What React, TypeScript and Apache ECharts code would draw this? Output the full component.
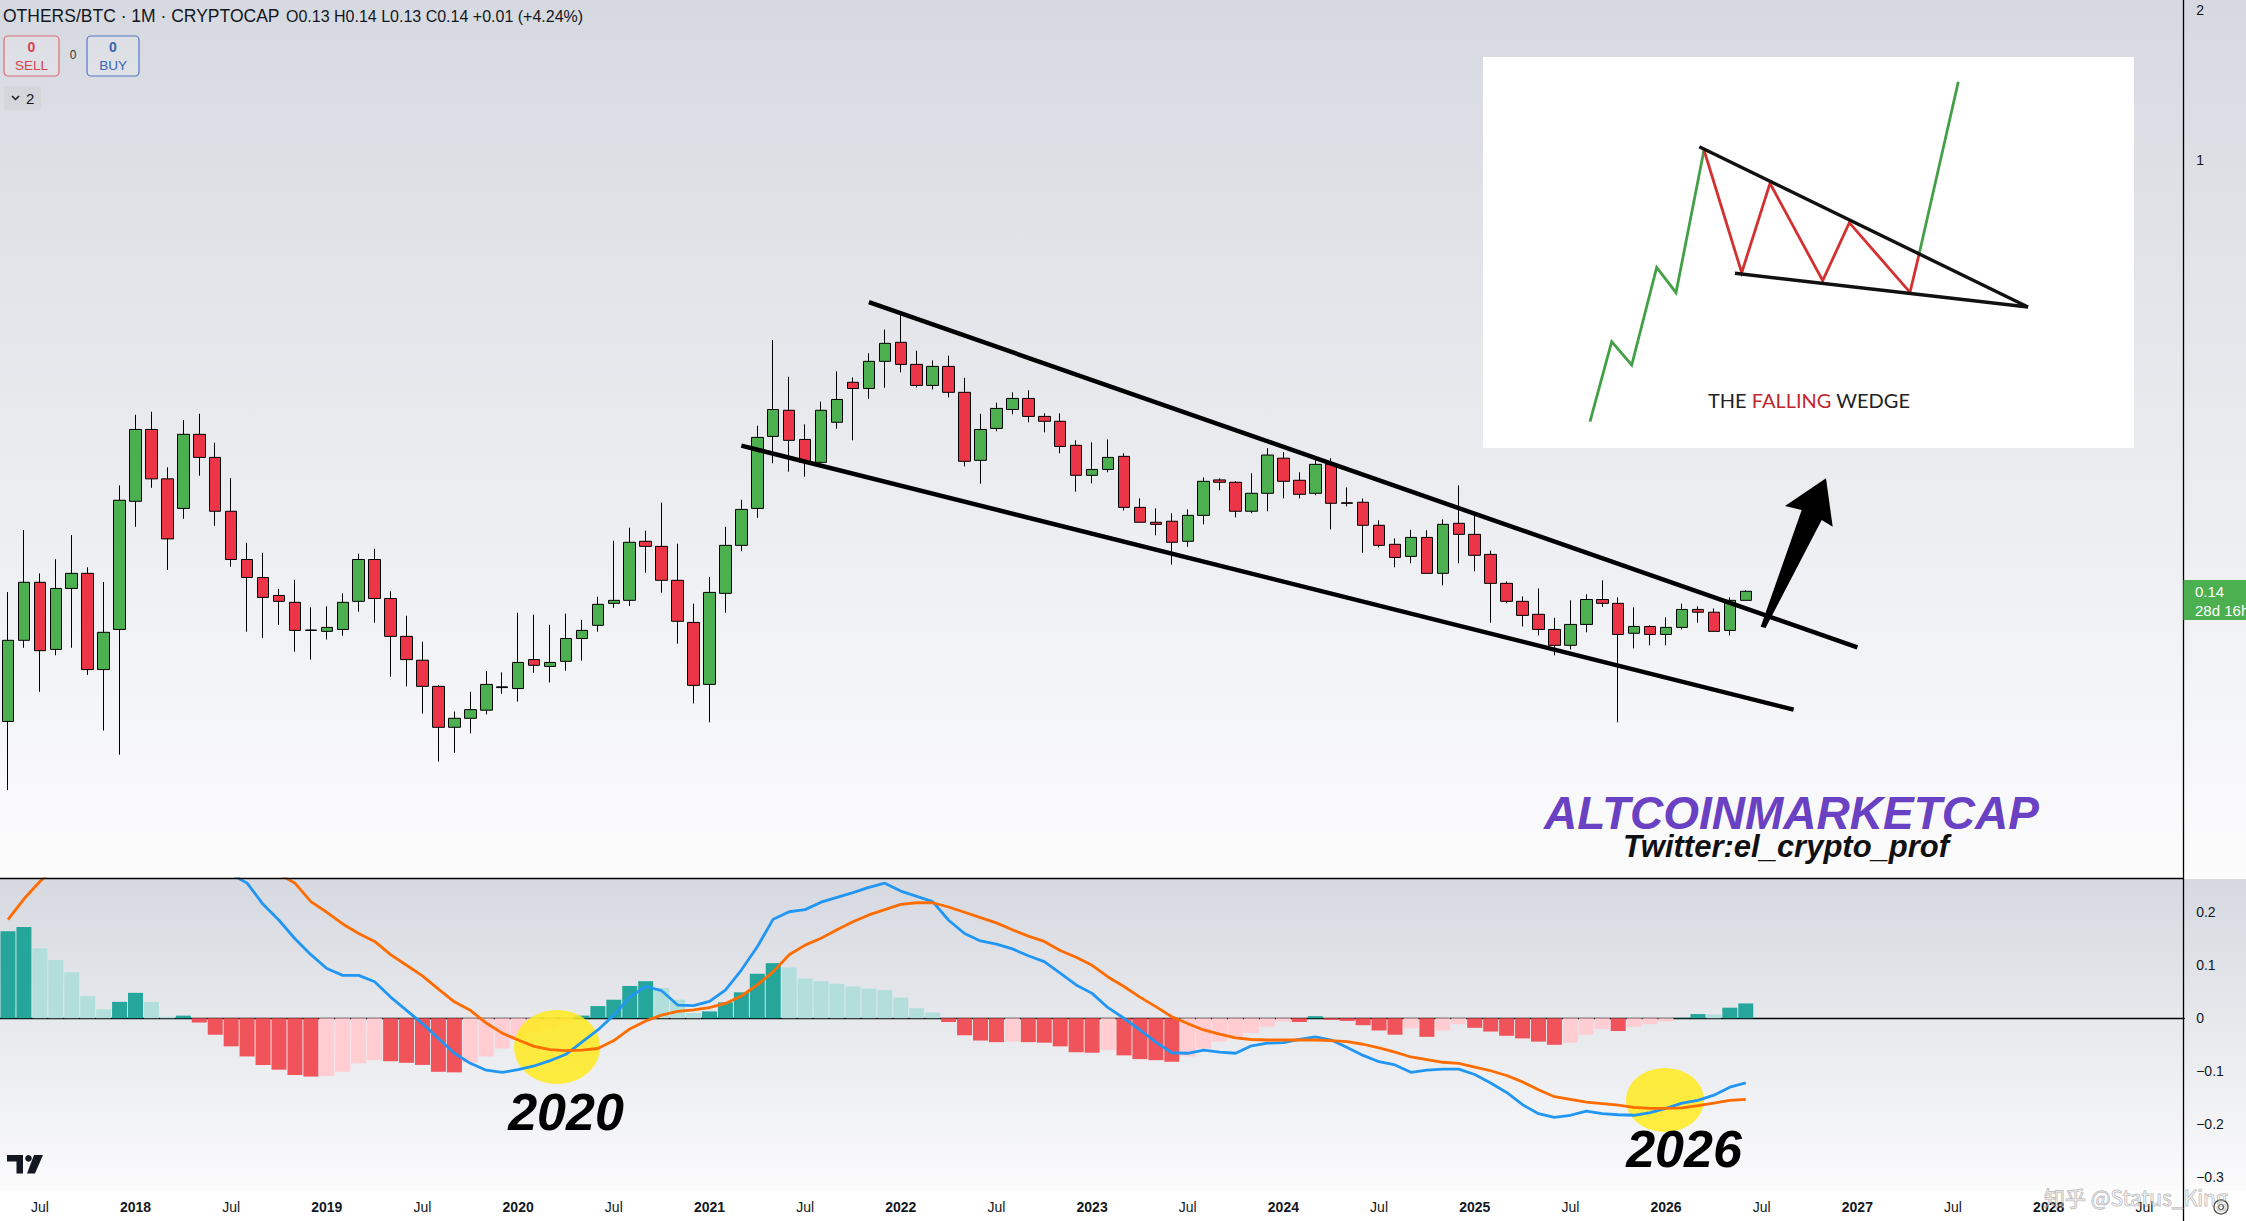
import React, { useEffect, useRef } from "react";
import * as echarts from "echarts";

// ---------- categories (monthly) ----------
const START_YEAR = 2017;
const START_MONTH = 5; // May 2017
const MONTH_COUNT = 137; // through Sep 2028 (empty future space)
const months: string[] = Array.from({ length: MONTH_COUNT }, (_, i) => {
  const m = START_MONTH - 1 + i;
  const y = START_YEAR + Math.floor(m / 12);
  const mm = (m % 12) + 1;
  return `${y}-${String(mm).padStart(2, "0")}`;
});

// ---------- OTHERS/BTC monthly candles (May 2017 .. Jun 2026) ----------
const opens = [
  0.0752, 0.1093, 0.1428, 0.1048, 0.1388, 0.1488, 0.0955, 0.1149, 0.2074, 0.2888,
  0.2300, 0.2007, 0.2824, 0.2539, 0.1981, 0.1586, 0.1460, 0.1344, 0.1302, 0.1144,
  0.1139, 0.1149, 0.1308, 0.1586, 0.1325, 0.1113, 0.0997, 0.0884, 0.0732, 0.0763,
  0.0792, 0.0879, 0.0875, 0.1000, 0.0969, 0.0992, 0.1102, 0.1171, 0.1296, 0.1314,
  0.1725, 0.1685, 0.1441, 0.1187, 0.0892, 0.1357, 0.1693, 0.2007, 0.2797, 0.3155,
  0.2758, 0.2482, 0.2985, 0.3589, 0.3488, 0.3953, 0.4315, 0.3898, 0.3538, 0.3862,
  0.3427, 0.2505, 0.2902, 0.3166, 0.3332, 0.3067, 0.2999, 0.2684, 0.2338, 0.2402,
  0.2551, 0.2017, 0.1883, 0.1892, 0.1725, 0.1944, 0.2289, 0.2264, 0.1981, 0.2152,
  0.2530, 0.2285, 0.2152, 0.2459, 0.2060, 0.2065, 0.1857, 0.1701, 0.1609, 0.1756,
  0.1488, 0.1874, 0.1781, 0.1624, 0.1421, 0.1308, 0.1232, 0.1149, 0.1068, 0.1176,
  0.1319, 0.1296, 0.1129, 0.1165, 0.1123, 0.1160, 0.1260, 0.1244, 0.1144, 0.1314,
];
const closes = [
  0.1093, 0.1428, 0.1042, 0.1388, 0.1488, 0.0955, 0.1134, 0.2084, 0.2888, 0.2300,
  0.1744, 0.2824, 0.2539, 0.1981, 0.1586, 0.1460, 0.1332, 0.1308, 0.1144, 0.1146,
  0.1160, 0.1302, 0.1586, 0.1325, 0.1113, 0.1000, 0.0884, 0.0732, 0.0763, 0.0794,
  0.0892, 0.0882, 0.0987, 0.0974, 0.0987, 0.1102, 0.1144, 0.1290, 0.1314, 0.1717,
  0.1685, 0.1441, 0.1193, 0.0888, 0.1363, 0.1693, 0.1998, 0.2784, 0.3166, 0.2747,
  0.2482, 0.3155, 0.3316, 0.3488, 0.3953, 0.4295, 0.3898, 0.3538, 0.3862, 0.3427,
  0.2494, 0.2888, 0.3182, 0.3332, 0.3067, 0.2999, 0.2671, 0.2338, 0.2402, 0.2539,
  0.2017, 0.1883, 0.1865, 0.1717, 0.1944, 0.2274, 0.2264, 0.1981, 0.2152, 0.2567,
  0.2274, 0.2142, 0.2459, 0.2055, 0.2055, 0.1857, 0.1693, 0.1601, 0.1756, 0.1488,
  0.1865, 0.1781, 0.1617, 0.1421, 0.1308, 0.1226, 0.1149, 0.1068, 0.1176, 0.1319,
  0.1296, 0.1123, 0.1165, 0.1123, 0.1160, 0.1260, 0.1244, 0.1139, 0.1314, 0.1370,
];
const lows = [
  0.0548, 0.1056, 0.0862, 0.1020, 0.1056, 0.0932, 0.0721, 0.0645, 0.1844, 0.2207,
  0.1512, 0.1913, 0.2333, 0.1853, 0.1534, 0.1137, 0.1105, 0.1174, 0.1037, 0.1000,
  0.1097, 0.1116, 0.1247, 0.1185, 0.0924, 0.0884, 0.0780, 0.0625, 0.0651, 0.0712,
  0.0777, 0.0854, 0.0824, 0.0941, 0.0900, 0.0950, 0.0995, 0.1137, 0.1269, 0.1280,
  0.1492, 0.1361, 0.1076, 0.0817, 0.0749, 0.1241, 0.1647, 0.1922, 0.2471, 0.2377,
  0.2322, 0.2471, 0.2896, 0.2747, 0.3325, 0.3499, 0.3758, 0.3505, 0.3472, 0.3348,
  0.2436, 0.2249, 0.2864, 0.3096, 0.2985, 0.2850, 0.2587, 0.2168, 0.2253, 0.2371,
  0.1987, 0.1883, 0.1773, 0.1549, 0.1682, 0.1865, 0.2182, 0.1926, 0.1963, 0.1981,
  0.2102, 0.2102, 0.2132, 0.1822, 0.2026, 0.1636, 0.1677, 0.1530, 0.1559, 0.1488,
  0.1408, 0.1559, 0.1502, 0.1185, 0.1296, 0.1165, 0.1118, 0.1020, 0.1048, 0.1134,
  0.1275, 0.0749, 0.1053, 0.1068, 0.1068, 0.1149, 0.1185, 0.1139, 0.1118, 0.1314,
];
const highs = [
  0.1365, 0.1817, 0.1488, 0.1588, 0.1775, 0.1530, 0.1430, 0.2232, 0.3091, 0.3134,
  0.2425, 0.3017, 0.3105, 0.2717, 0.2308, 0.1713, 0.1636, 0.1385, 0.1444, 0.1272,
  0.1278, 0.1357, 0.1629, 0.1666, 0.1370, 0.1224, 0.1086, 0.0890, 0.0787, 0.0862,
  0.0949, 0.0943, 0.1241, 0.1230, 0.1174, 0.1236, 0.1201, 0.1336, 0.1729, 0.1836,
  0.1811, 0.2061, 0.1706, 0.1294, 0.1464, 0.1844, 0.2088, 0.2938, 0.4363, 0.3681,
  0.2957, 0.3282, 0.3775, 0.3670, 0.4102, 0.4577, 0.4909, 0.4152, 0.3971, 0.4056,
  0.3664, 0.3105, 0.3267, 0.3427, 0.3459, 0.3111, 0.3111, 0.2747, 0.2722, 0.2758,
  0.2587, 0.2102, 0.2007, 0.1963, 0.1998, 0.2315, 0.2305, 0.2274, 0.2360, 0.2650,
  0.2603, 0.2371, 0.2542, 0.2530, 0.2211, 0.2102, 0.1900, 0.1748, 0.1818, 0.1815,
  0.1908, 0.2232, 0.1944, 0.1652, 0.1434, 0.1338, 0.1388, 0.1212, 0.1314, 0.1351,
  0.1441, 0.1332, 0.1272, 0.1171, 0.1215, 0.1294, 0.1278, 0.1266, 0.1332, 0.1376,
];

// ---------- MACD pane ----------
const macdLine = [
  0.350, 0.397, 0.390, 0.395, 0.392, 0.357, 0.337, 0.357, 0.383, 0.374,
  0.348, 0.350, 0.335, 0.306, 0.272, 0.255, 0.215, 0.185, 0.150, 0.120,
  0.094, 0.081, 0.081, 0.069, 0.040, 0.015, -0.010, -0.038, -0.066, -0.085,
  -0.098, -0.102, -0.097, -0.090, -0.080, -0.068, -0.045, -0.022, 0.006, 0.040,
  0.060, 0.052, 0.025, 0.024, 0.032, 0.053, 0.091, 0.135, 0.187, 0.201,
  0.205, 0.219, 0.228, 0.237, 0.247, 0.255, 0.240, 0.230, 0.220, 0.185,
  0.160, 0.146, 0.140, 0.131, 0.118, 0.107, 0.085, 0.063, 0.047, 0.020,
  0.000, -0.022, -0.045, -0.065, -0.066, -0.060, -0.064, -0.066, -0.052, -0.047,
  -0.046, -0.040, -0.035, -0.041, -0.055, -0.070, -0.082, -0.088, -0.102, -0.098,
  -0.096, -0.096, -0.106, -0.122, -0.140, -0.163, -0.180, -0.187, -0.183, -0.175,
  -0.180, -0.182, -0.183, -0.178, -0.170, -0.160, -0.155, -0.145, -0.130, -0.122,
];
const signalLine = [
  0.186, 0.225, 0.258, 0.285, 0.305, 0.315, 0.320, 0.326, 0.335, 0.343,
  0.345, 0.345, 0.343, 0.337, 0.325, 0.308, 0.290, 0.272, 0.255, 0.220,
  0.200, 0.178, 0.160, 0.145, 0.120, 0.100, 0.080, 0.055, 0.031, 0.015,
  -0.009, -0.028, -0.041, -0.053, -0.059, -0.061, -0.060, -0.057, -0.042, -0.020,
  -0.005, 0.006, 0.013, 0.016, 0.020, 0.028, 0.042, 0.063, 0.088, 0.120,
  0.138, 0.151, 0.167, 0.182, 0.195, 0.205, 0.215, 0.218, 0.218, 0.210,
  0.200, 0.190, 0.180, 0.167, 0.155, 0.145, 0.128, 0.115, 0.100, 0.078,
  0.060, 0.040, 0.022, 0.003, -0.010, -0.022, -0.030, -0.037, -0.040, -0.041,
  -0.041, -0.041, -0.041, -0.042, -0.044, -0.049, -0.056, -0.064, -0.073, -0.078,
  -0.083, -0.085, -0.092, -0.099, -0.108, -0.120, -0.135, -0.148, -0.153, -0.158,
  -0.161, -0.164, -0.168, -0.170, -0.170, -0.169, -0.165, -0.160, -0.155, -0.153,
];
const histogram = [
  0.164, 0.172, 0.132, 0.110, 0.087, 0.042, 0.017, 0.031, 0.048, 0.031,
  0.003, 0.005, -0.008, -0.031, -0.053, -0.072, -0.088, -0.097, -0.107, -0.110,
  -0.109, -0.101, -0.085, -0.079, -0.081, -0.084, -0.088, -0.101, -0.102, -0.084,
  -0.072, -0.057, -0.041, -0.028, -0.019, -0.011, 0.005, 0.023, 0.035, 0.061,
  0.070, 0.057, 0.035, 0.010, 0.013, 0.030, 0.049, 0.084, 0.104, 0.096,
  0.075, 0.070, 0.065, 0.060, 0.056, 0.053, 0.039, 0.019, 0.011, -0.007,
  -0.032, -0.042, -0.045, -0.044, -0.045, -0.046, -0.053, -0.064, -0.065, -0.060,
  -0.070, -0.077, -0.079, -0.082, -0.072, -0.057, -0.044, -0.038, -0.028, -0.016,
  -0.006, -0.007, 0.004, -0.003, -0.005, -0.013, -0.023, -0.031, -0.019, -0.035,
  -0.023, -0.011, -0.018, -0.025, -0.033, -0.038, -0.044, -0.050, -0.046, -0.031,
  -0.020, -0.024, -0.016, -0.011, -0.006, 0.001, 0.008, 0.007, 0.020, 0.028,
];

// ---------- falling wedge trend lines (month, price) ----------
const upperTrend: [string, number][] = [["2021-11", 0.5193], ["2027-01", 0.1058]];
const lowerTrend: [string, number][] = [["2021-03", 0.268], ["2026-09", 0.0794]];

// ---------- texts ----------
const headerTitle = "OTHERS/BTC · 1M · CRYPTOCAP";
const headerOHLC = "O0.13 H0.14 L0.13 C0.14 +0.01 (+4.24%)";
const lastPrice = "0.14";
const countdown = "28d 16h";

const FONT = '"Liberation Sans", Arial, sans-serif';
const TXT = "#131722";

function buildOption(): any {
  const candleData = opens.map((o, i) => [o, closes[i], lows[i], highs[i]]);
  const histData = histogram.map((v, i) => {
    const prev = i > 0 ? histogram[i - 1] : -Infinity;
    let color;
    if (v >= 0) color = v >= prev ? "#26A69A" : "#B2DFDB";
    else color = v < prev ? "#F0535A" : "#FFCDD2";
    return { value: v, itemStyle: { color } };
  });

  const gridLeft = -3.7;
  const gridWidth = MONTH_COUNT * 15.97;

  const t = (text: string, x: number, y: number, style: any = {}, z = 20) => ({
    type: "text",
    x,
    y,
    z,
    silent: true,
    style: {
      text,
      fill: TXT,
      fontFamily: FONT,
      fontSize: 14,
      verticalAlign: "middle",
      align: "left",
      ...style,
    },
  });

  const graphics: any[] = [
    // backgrounds
    {
      type: "rect", z: -100, silent: true,
      shape: { x: 0, y: 0, width: 2246, height: 878 },
      style: { fill: new echarts.graphic.LinearGradient(0, 0, 0, 1, [
        { offset: 0, color: "#D6D9E0" }, { offset: 1, color: "#FCFCFD" }]) },
    },
    {
      type: "rect", z: -100, silent: true,
      shape: { x: 0, y: 879, width: 2246, height: 311 },
      style: { fill: new echarts.graphic.LinearGradient(0, 0, 0, 1, [
        { offset: 0, color: "#D6D9E0" }, { offset: 1, color: "#FBFBFC" }]) },
    },
    // pane separator & price axis line
    { type: "line", z: 30, silent: true, shape: { x1: 0, y1: 878.5, x2: 2183.5, y2: 878.5 }, style: { stroke: "#000", lineWidth: 1.3 } },
    { type: "line", z: 30, silent: true, shape: { x1: 2183.5, y1: 0, x2: 2183.5, y2: 1221 }, style: { stroke: "#000", lineWidth: 1.3 } },

    // header
    t(headerTitle, 3, 16, { fontSize: 17.5 }),
    t(headerOHLC, 286, 16, { fontSize: 16 }),
    // sell / buy
    { type: "rect", z: 20, silent: true, shape: { x: 4, y: 36, width: 55, height: 40, r: 4 }, style: { fill: "rgba(255,255,255,0.15)", stroke: "#E06A74", lineWidth: 1.2 } },
    t("0", 31.5, 47, { fontSize: 14, fontWeight: "bold", fill: "#D9434F", align: "center" }),
    t("SELL", 31.5, 65, { fontSize: 13.5, fill: "#D9434F", align: "center" }),
    t("0", 73, 55, { fontSize: 12, fill: "#333", align: "center" }),
    { type: "rect", z: 20, silent: true, shape: { x: 87, y: 36, width: 52, height: 40, r: 4 }, style: { fill: "rgba(255,255,255,0.15)", stroke: "#5378C4", lineWidth: 1.2 } },
    t("0", 113, 47, { fontSize: 14, fontWeight: "bold", fill: "#3A64B4", align: "center" }),
    t("BUY", 113, 65, { fontSize: 13.5, fill: "#3A64B4", align: "center" }),
    { type: "rect", z: 20, silent: true, shape: { x: 4, y: 86, width: 37, height: 24, r: 3 }, style: { fill: "rgba(0,0,0,0.03)" } },
    { type: "polyline", z: 21, silent: true, shape: { points: [[12, 96], [15.5, 99.5], [19, 96]] }, style: { stroke: TXT, lineWidth: 1.5, fill: null } },
    t("2", 26, 98, { fontSize: 15 }),

    // price tag
    { type: "rect", z: 30, silent: true, shape: { x: 2183.5, y: 580, width: 63, height: 40 }, style: { fill: "#4CAF50" } },
    t(lastPrice, 2195, 591, { fontSize: 15, fill: "#fff" }, 31),
    t(countdown, 2195, 610, { fontSize: 15, fill: "#fff" }, 31),

    // inset "falling wedge" illustration
    { type: "rect", z: 20, silent: true, shape: { x: 1483, y: 57, width: 651, height: 391 }, style: { fill: "#fff" } },
    { type: "polyline", z: 21, silent: true, shape: { points: [[1590, 421.7], [1611.7, 341.7], [1631.7, 365], [1656.7, 267.3], [1676, 292.7], [1704, 150]] }, style: { stroke: "#43A047", lineWidth: 2.8, fill: null } },
    { type: "polyline", z: 21, silent: true, shape: { points: [[1704, 150], [1741.7, 272.7], [1770, 183.3], [1822.7, 280.7], [1849.3, 222.7], [1910, 292.3], [1919.3, 253.3]] }, style: { stroke: "#D3302F", lineWidth: 2.8, fill: null } },
    { type: "polyline", z: 21, silent: true, shape: { points: [[1919.3, 253.3], [1958.3, 81.7]] }, style: { stroke: "#43A047", lineWidth: 2.8, fill: null } },
    { type: "line", z: 22, silent: true, shape: { x1: 1699.3, y1: 146.7, x2: 2028, y2: 307 }, style: { stroke: "#111", lineWidth: 3.4 } },
    { type: "line", z: 22, silent: true, shape: { x1: 1735, y1: 273.3, x2: 2028, y2: 307 }, style: { stroke: "#111", lineWidth: 3.4 } },
    {
      type: "text", z: 22, silent: true, x: 1708, y: 400,
      style: {
        text: "{a|THE }{b|FALLING}{a| WEDGE}",
        verticalAlign: "middle", align: "left",
        rich: {
          a: { fontSize: 20, fill: "#222", fontFamily: "Lato, sans-serif" },
          b: { fontSize: 20, fill: "#C0272D", fontFamily: "Lato, sans-serif" },
        },
      },
    },

    // arrow
    { type: "polygon", z: 25, silent: true, shape: { points: [[1760.7, 626.7], [1801.7, 510], [1785, 506], [1826, 478.3], [1832.7, 526.7], [1821.7, 520], [1765.5, 628]] }, style: { fill: "#000" } },

    // branding
    t("ALTCOINMARKETCAP", 1544, 813, { fontSize: 46, fontWeight: "bold", fontStyle: "italic", fill: "#6A41C2" }, 25),
    t("Twitter:el_crypto_prof", 1623, 846, { fontSize: 31, fontWeight: 600, fontStyle: "italic", fill: "#111" }, 25),

    // MACD annotations
    { type: "ellipse", z: 3, silent: true, shape: { cx: 557, cy: 1047, rx: 43, ry: 37 }, style: { fill: "rgba(255,234,30,0.85)" } },
    { type: "ellipse", z: 3, silent: true, shape: { cx: 1665, cy: 1100, rx: 39, ry: 32 }, style: { fill: "rgba(255,234,30,0.85)" } },
    t("2020", 566, 1112, { fontSize: 52, fontWeight: "bold", fontStyle: "italic", fill: "#000", align: "center" }, 25),
    t("2026", 1684, 1149, { fontSize: 52, fontWeight: "bold", fontStyle: "italic", fill: "#000", align: "center" }, 25),

    // TradingView logo
    { type: "rect", z: 25, silent: true, shape: { x: 7, y: 1155, width: 16, height: 6.5 }, style: { fill: "#131722" } },
    { type: "rect", z: 25, silent: true, shape: { x: 16.5, y: 1155, width: 6.5, height: 18.5 }, style: { fill: "#131722" } },
    { type: "circle", z: 25, silent: true, shape: { cx: 28.5, cy: 1158.3, r: 3.3 }, style: { fill: "#131722" } },
    { type: "polygon", z: 25, silent: true, shape: { points: [[34, 1155], [43, 1155], [35, 1173.5], [27, 1173.5]] }, style: { fill: "#131722" } },

    // settings icon + watermark
    { type: "circle", z: 25, silent: true, shape: { cx: 2221, cy: 1207, r: 7 }, style: { fill: null, stroke: "#444", lineWidth: 1.3 } },
    { type: "circle", z: 25, silent: true, shape: { cx: 2221, cy: 1207, r: 2.5 }, style: { fill: null, stroke: "#444", lineWidth: 1.2 } },
    t("知乎 @Status_King", 2044, 1197, { fontSize: 21, fill: "rgba(255,255,255,0.35)", stroke: "rgba(90,90,90,0.45)", lineWidth: 1, fontFamily: '"Noto Sans CJK SC", sans-serif' }, 40),
  ];

  return {
    animation: false,
    backgroundColor: "#ffffff",
    grid: [
      { left: gridLeft, top: 0, width: gridWidth, height: 878 },
      { left: gridLeft, top: 879, width: gridWidth, height: 311 },
    ],
    xAxis: [
      {
        type: "category", gridIndex: 0, data: months, boundaryGap: true,
        axisLine: { show: false }, axisTick: { show: false }, axisLabel: { show: false }, splitLine: { show: false },
      },
      {
        type: "category", gridIndex: 1, data: months, boundaryGap: true,
        axisLine: { show: true, lineStyle: { color: "#000", width: 1.3 } },
        axisTick: { show: false },
        splitLine: { show: false },
        axisLabel: {
          margin: 10,
          color: TXT,
          fontFamily: FONT,
          fontSize: 14,
          interval: (_i: number, v: string) => v.endsWith("-01") || v.endsWith("-07"),
          formatter: (v: string) => (v.endsWith("-01") ? `{y|${v.slice(0, 4)}}` : "Jul"),
          rich: { y: { fontWeight: "bold", fontSize: 14, color: TXT, fontFamily: FONT } },
        },
      },
    ],
    yAxis: [
      {
        type: "log", logBase: 2, gridIndex: 0, position: "right",
        min: 0.03655, max: 2.0898, splitNumber: 6,
        axisLine: { show: false }, axisTick: { show: false }, splitLine: { show: false },
        axisLabel: {
          margin: 12, color: TXT, fontSize: 14, fontFamily: FONT, align: "left",
          formatter: (v: number) => (Math.abs(v - 2) < 1e-6 ? "2" : Math.abs(v - 1) < 1e-6 ? "1" : ""),
        },
      },
      {
        type: "value", gridIndex: 1, position: "right",
        min: -0.324, max: 0.2628, splitNumber: 5,
        axisLine: { show: false }, axisTick: { show: false }, splitLine: { show: false },
        axisLabel: {
          margin: 12, color: TXT, fontSize: 14, fontFamily: FONT, align: "left",
          showMinLabel: false, showMaxLabel: false,
          formatter: (v: number) => (Math.abs(v) < 1e-9 ? "0" : (v < 0 ? "\u2212" : "") + Math.abs(v).toFixed(1)),
        },
      },
    ],
    series: [
      {
        name: "OTHERS/BTC", type: "candlestick", xAxisIndex: 0, yAxisIndex: 0,
        data: candleData, barWidth: 12, z: 3,
        itemStyle: { color: "#4CAF50", color0: "#EC3648", borderColor: "#000", borderColor0: "#000", borderWidth: 1 },
      },
      {
        name: "upper", type: "line", xAxisIndex: 0, yAxisIndex: 0, data: upperTrend,
        symbol: "none", z: 6, lineStyle: { color: "#000", width: 4.5 }, silent: true,
      },
      {
        name: "lower", type: "line", xAxisIndex: 0, yAxisIndex: 0, data: lowerTrend,
        symbol: "none", z: 6, lineStyle: { color: "#000", width: 4.5 }, silent: true,
      },
      {
        name: "Histogram", type: "bar", xAxisIndex: 1, yAxisIndex: 1, data: histData,
        barWidth: 15, z: 2, silent: true,
      },
      {
        name: "MACD", type: "line", xAxisIndex: 1, yAxisIndex: 1, data: macdLine,
        symbol: "none", z: 4, lineStyle: { color: "#2196F3", width: 2.8 }, silent: true,
      },
      {
        name: "Signal", type: "line", xAxisIndex: 1, yAxisIndex: 1, data: signalLine,
        symbol: "none", z: 4, lineStyle: { color: "#FF6D00", width: 2.8 }, silent: true,
      },
    ],
    graphic: { elements: graphics },
  };
}

export default function App() {
  const ref = useRef<HTMLDivElement>(null);
  useEffect(() => {
    if (!ref.current) return;
    const chart = echarts.init(ref.current, null, { renderer: "svg" });
    chart.setOption(buildOption());
    return () => chart.dispose();
  }, []);
  return (
    <div
      ref={ref}
      style={{ position: "fixed", left: 0, top: 0, width: "2246px", height: "1221px" }}
    />
  );
}
